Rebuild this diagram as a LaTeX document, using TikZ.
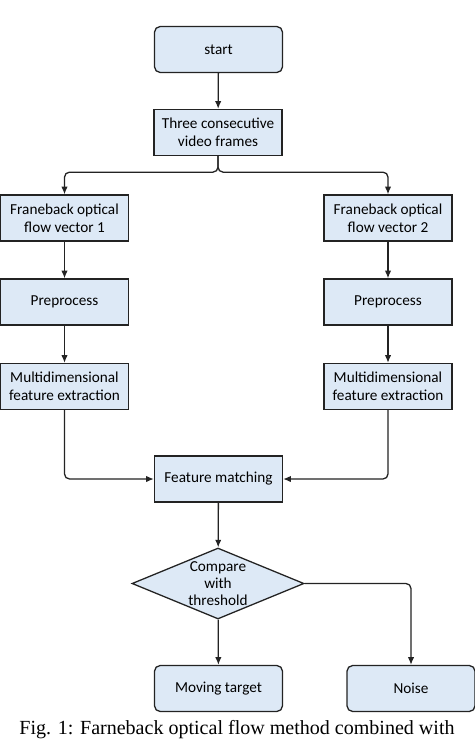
\documentclass[tikz,border=0pt]{standalone}
\usepackage{fontspec}
\setmainfont{Liberation Serif}
\newfontfamily\boxfont{Carlito}
\usetikzlibrary{arrows.meta,shapes.geometric}
\definecolor{boxfill}{RGB}{221,233,246}
\definecolor{edge}{RGB}{35,35,35}
\tikzset{
    stepbox/.style={draw=edge, fill=boxfill, line width=1.1pt, minimum width=3.84cm, minimum height=1.38cm,
        align=center, inner sep=1pt, font=\boxfont\fontsize{13}{15.5}\selectfont},
    endbox/.style={stepbox, rounded corners=0.17cm},
    decision/.style={stepbox, diamond, aspect=2.42, minimum width=5.16cm, minimum height=2.13cm,
        inner sep=-3pt, font=\boxfont\fontsize{13}{14.5}\selectfont},
    link/.style={draw=edge, line width=1.1pt, -{Latex[length=2.3mm,width=1.9mm]}, rounded corners=0.15cm}
}
\begin{document}
\begin{tikzpicture}[x=0.03cm,y=-0.03cm]
    \useasboundingbox (0,0) rectangle (474,754);
    % main column
    \node[endbox] (start) at (218.5,49.5) {start};
    \node[stepbox] (frames) at (218,132.5) {Three consecutive\\video frames};
    % the two branches
    \foreach \s/\xc/\k in {L/64.5/1, R/388/2}{
        \node[stepbox] (flow\s) at (\xc,218) {Franeback optical\\flow vector \k};
        \node[stepbox] (pre\s) at (\xc,302) {Preprocess};
        \node[stepbox] (feat\s) at (\xc,386.5) {Multidimensional\\feature extraction};
        \draw[link] (flow\s) -- (pre\s);
        \draw[link] (pre\s) -- (feat\s);
    }
    \node[stepbox] (match) at (218.5,479) {Feature matching};
    \node[decision] (cmp) at (218,583.5) {Compare\\with\\threshold};
    \node[endbox] (target) at (218.5,688.5) {Moving target};
    \node[endbox] (noise) at (411,688.5) {Noise};
    % connectors
    \draw[link] (start) -- (frames);
    \draw[link] (frames.south) -- ++(0,16) -| (flowL.north);
    \draw[link] (frames.south) -- ++(0,16) -| (flowR.north);
    \draw[link] (featL.south) |- (match.west);
    \draw[link] (featR.south) |- (match.east);
    \draw[link] (match) -- (cmp);
    \draw[link] (cmp) -- (target);
    \draw[link] (cmp.east) -| (noise.north);
    \node[font=\fontsize{17.1}{20}\selectfont, anchor=base] (caption) at (237,734)
        {Fig. 1: Farneback optical flow method combined with};
\end{tikzpicture}
\end{document}
